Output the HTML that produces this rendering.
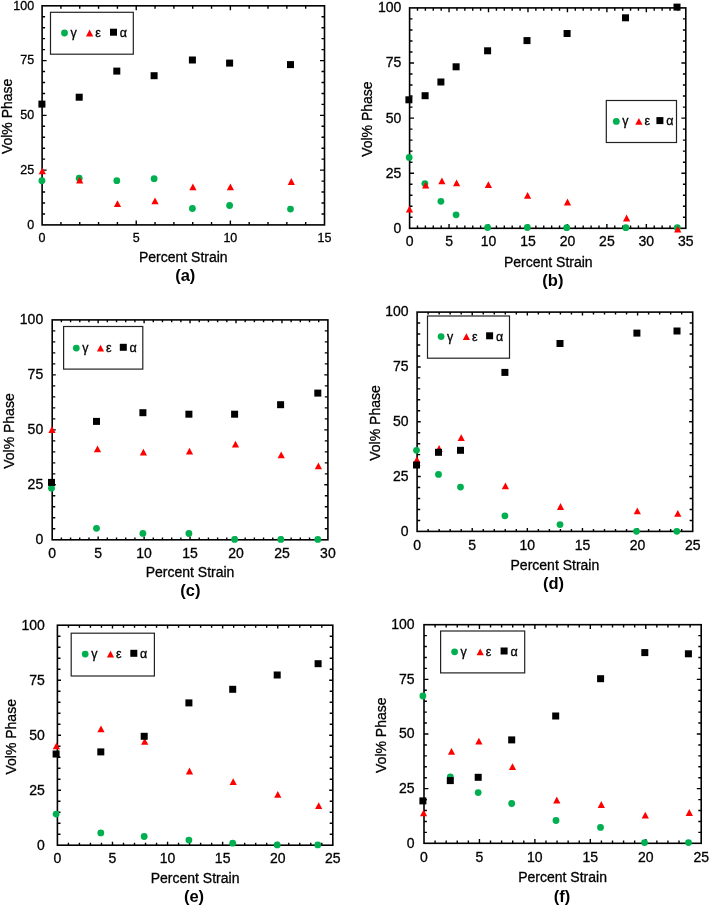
<!DOCTYPE html>
<html><head><meta charset="utf-8"><title>Vol% Phase vs Percent Strain</title>
<style>html,body{margin:0;padding:0;background:#fff;width:709px;height:905px;overflow:hidden}svg{display:block;filter:blur(0.35px)}text{font-family:"Liberation Sans", Arial, sans-serif;fill:#000;stroke:#000;stroke-width:0.3px}text.lb{stroke:none}</style>
</head><body>
<svg width="709" height="905" viewBox="0 0 709 905">
<rect width="709" height="905" fill="#fff"/>
<rect x="42.1" y="5.8" width="282.4" height="219.1" fill="none" stroke="#000" stroke-width="1.6"/>
<path d="M60.93 224.9v-3.0M60.93 5.8v3.0M79.75 224.9v-3.0M79.75 5.8v3.0M98.58 224.9v-3.0M98.58 5.8v3.0M117.41 224.9v-3.0M117.41 5.8v3.0M136.23 224.9v-4.5M136.23 5.8v4.5M155.06 224.9v-3.0M155.06 5.8v3.0M173.89 224.9v-3.0M173.89 5.8v3.0M192.71 224.9v-3.0M192.71 5.8v3.0M211.54 224.9v-3.0M211.54 5.8v3.0M230.37 224.9v-4.5M230.37 5.8v4.5M249.19 224.9v-3.0M249.19 5.8v3.0M268.02 224.9v-3.0M268.02 5.8v3.0M286.85 224.9v-3.0M286.85 5.8v3.0M305.67 224.9v-3.0M305.67 5.8v3.0M42.1 213.94h3.0M324.5 213.94h-3.0M42.1 202.99h3.0M324.5 202.99h-3.0M42.1 192.04h3.0M324.5 192.04h-3.0M42.1 181.08h3.0M324.5 181.08h-3.0M42.1 170.12h4.5M324.5 170.12h-4.5M42.1 159.17h3.0M324.5 159.17h-3.0M42.1 148.22h3.0M324.5 148.22h-3.0M42.1 137.26h3.0M324.5 137.26h-3.0M42.1 126.31h3.0M324.5 126.31h-3.0M42.1 115.35h4.5M324.5 115.35h-4.5M42.1 104.4h3.0M324.5 104.4h-3.0M42.1 93.44h3.0M324.5 93.44h-3.0M42.1 82.49h3.0M324.5 82.49h-3.0M42.1 71.53h3.0M324.5 71.53h-3.0M42.1 60.58h4.5M324.5 60.58h-4.5M42.1 49.62h3.0M324.5 49.62h-3.0M42.1 38.67h3.0M324.5 38.67h-3.0M42.1 27.71h3.0M324.5 27.71h-3.0M42.1 16.76h3.0M324.5 16.76h-3.0" stroke="#000" stroke-width="1.4" fill="none"/>
<circle cx="41.9" cy="180.7" r="3.4" fill="#00B050"/>
<circle cx="79.2" cy="178.2" r="3.4" fill="#00B050"/>
<circle cx="116.8" cy="180.7" r="3.4" fill="#00B050"/>
<circle cx="154.1" cy="178.7" r="3.4" fill="#00B050"/>
<circle cx="192.4" cy="208.5" r="3.4" fill="#00B050"/>
<circle cx="229.6" cy="205.5" r="3.4" fill="#00B050"/>
<circle cx="290.5" cy="209.1" r="3.4" fill="#00B050"/>
<path d="M42.3 167.4L45.9 174.2L38.7 174.2Z" fill="#FF0000"/>
<path d="M79.7 176.6L83.3 183.4L76.1 183.4Z" fill="#FF0000"/>
<path d="M117.5 200.2L121.1 207L113.9 207Z" fill="#FF0000"/>
<path d="M155 197.4L158.6 204.2L151.4 204.2Z" fill="#FF0000"/>
<path d="M192.9 183.5L196.5 190.3L189.3 190.3Z" fill="#FF0000"/>
<path d="M230.4 183.5L234 190.3L226.8 190.3Z" fill="#FF0000"/>
<path d="M291.3 178.1L294.9 184.9L287.7 184.9Z" fill="#FF0000"/>
<rect x="38.4" y="100.6" width="7.0" height="7.0" fill="#000000"/>
<rect x="75.7" y="93.7" width="7.0" height="7.0" fill="#000000"/>
<rect x="113.3" y="67.6" width="7.0" height="7.0" fill="#000000"/>
<rect x="150.6" y="72.2" width="7.0" height="7.0" fill="#000000"/>
<rect x="188.9" y="56.5" width="7.0" height="7.0" fill="#000000"/>
<rect x="226.1" y="59.6" width="7.0" height="7.0" fill="#000000"/>
<rect x="287" y="61.1" width="7.0" height="7.0" fill="#000000"/>
<text x="34.1" y="228.7" text-anchor="end" font-size="12.5">0</text>
<text x="34.1" y="173.93" text-anchor="end" font-size="12.5">25</text>
<text x="34.1" y="119.15" text-anchor="end" font-size="12.5">50</text>
<text x="34.1" y="64.38" text-anchor="end" font-size="12.5">75</text>
<text x="34.1" y="9.6" text-anchor="end" font-size="12.5">100</text>
<text x="42.1" y="242.1" text-anchor="middle" font-size="12.5">0</text>
<text x="136.23" y="242.1" text-anchor="middle" font-size="12.5">5</text>
<text x="230.37" y="242.1" text-anchor="middle" font-size="12.5">10</text>
<text x="324.5" y="242.1" text-anchor="middle" font-size="12.5">15</text>
<text x="183.3" y="261.5" text-anchor="middle" font-size="14">Percent Strain</text>
<text transform="translate(11.8 116.35) rotate(-90)" text-anchor="middle" font-size="14">Vol% Phase</text>
<text x="185.3" y="281.3" text-anchor="middle" font-size="16.5" font-weight="bold" class="lb">(a)</text>
<rect x="50.5" y="12.3" width="82.8" height="41.9" fill="#fff" stroke="#222" stroke-width="1.2"/>
<circle cx="64.5" cy="33" r="3.4" fill="#00B050"/>
<path d="M89.6 29.6L93.2 36.4L86 36.4Z" fill="#FF0000"/>
<rect x="110" y="28.7" width="7.0" height="7.0" fill="#000"/>
<text x="70.5" y="36.9" font-size="12.5">γ</text>
<text x="95.2" y="36.9" font-size="12.5">ε</text>
<text x="119.8" y="36.9" font-size="12.5">α</text>
<rect x="409.6" y="7.9" width="276.2" height="220.4" fill="none" stroke="#000" stroke-width="1.6"/>
<path d="M417.49 228.3v-2.9M417.49 7.9v2.9M425.38 228.3v-2.9M425.38 7.9v2.9M433.27 228.3v-2.9M433.27 7.9v2.9M441.17 228.3v-2.9M441.17 7.9v2.9M449.06 228.3v-4.4M449.06 7.9v4.4M456.95 228.3v-2.9M456.95 7.9v2.9M464.84 228.3v-2.9M464.84 7.9v2.9M472.73 228.3v-2.9M472.73 7.9v2.9M480.62 228.3v-2.9M480.62 7.9v2.9M488.51 228.3v-4.4M488.51 7.9v4.4M496.41 228.3v-2.9M496.41 7.9v2.9M504.3 228.3v-2.9M504.3 7.9v2.9M512.19 228.3v-2.9M512.19 7.9v2.9M520.08 228.3v-2.9M520.08 7.9v2.9M527.97 228.3v-4.4M527.97 7.9v4.4M535.86 228.3v-2.9M535.86 7.9v2.9M543.75 228.3v-2.9M543.75 7.9v2.9M551.65 228.3v-2.9M551.65 7.9v2.9M559.54 228.3v-2.9M559.54 7.9v2.9M567.43 228.3v-4.4M567.43 7.9v4.4M575.32 228.3v-2.9M575.32 7.9v2.9M583.21 228.3v-2.9M583.21 7.9v2.9M591.1 228.3v-2.9M591.1 7.9v2.9M598.99 228.3v-2.9M598.99 7.9v2.9M606.89 228.3v-4.4M606.89 7.9v4.4M614.78 228.3v-2.9M614.78 7.9v2.9M622.67 228.3v-2.9M622.67 7.9v2.9M630.56 228.3v-2.9M630.56 7.9v2.9M638.45 228.3v-2.9M638.45 7.9v2.9M646.34 228.3v-4.4M646.34 7.9v4.4M654.23 228.3v-2.9M654.23 7.9v2.9M662.13 228.3v-2.9M662.13 7.9v2.9M670.02 228.3v-2.9M670.02 7.9v2.9M677.91 228.3v-2.9M677.91 7.9v2.9M409.6 217.28h2.9M685.8 217.28h-2.9M409.6 206.26h2.9M685.8 206.26h-2.9M409.6 195.24h2.9M685.8 195.24h-2.9M409.6 184.22h2.9M685.8 184.22h-2.9M409.6 173.2h4.4M685.8 173.2h-4.4M409.6 162.18h2.9M685.8 162.18h-2.9M409.6 151.16h2.9M685.8 151.16h-2.9M409.6 140.14h2.9M685.8 140.14h-2.9M409.6 129.12h2.9M685.8 129.12h-2.9M409.6 118.1h4.4M685.8 118.1h-4.4M409.6 107.08h2.9M685.8 107.08h-2.9M409.6 96.06h2.9M685.8 96.06h-2.9M409.6 85.04h2.9M685.8 85.04h-2.9M409.6 74.02h2.9M685.8 74.02h-2.9M409.6 63h4.4M685.8 63h-4.4M409.6 51.98h2.9M685.8 51.98h-2.9M409.6 40.96h2.9M685.8 40.96h-2.9M409.6 29.94h2.9M685.8 29.94h-2.9M409.6 18.92h2.9M685.8 18.92h-2.9" stroke="#000" stroke-width="1.4" fill="none"/>
<circle cx="409.2" cy="157.4" r="3.4" fill="#00B050"/>
<circle cx="424.9" cy="183.6" r="3.4" fill="#00B050"/>
<circle cx="440.9" cy="201.3" r="3.4" fill="#00B050"/>
<circle cx="456.1" cy="214.8" r="3.4" fill="#00B050"/>
<circle cx="487.6" cy="227.5" r="3.4" fill="#00B050"/>
<circle cx="527.3" cy="227.5" r="3.4" fill="#00B050"/>
<circle cx="566.7" cy="227.7" r="3.4" fill="#00B050"/>
<circle cx="625.8" cy="227.7" r="3.4" fill="#00B050"/>
<circle cx="677.3" cy="227.7" r="3.4" fill="#00B050"/>
<path d="M409.5 205.8L413.1 212.6L405.9 212.6Z" fill="#FF0000"/>
<path d="M425.7 181.7L429.3 188.5L422.1 188.5Z" fill="#FF0000"/>
<path d="M441.9 177.4L445.5 184.2L438.3 184.2Z" fill="#FF0000"/>
<path d="M456.6 179.4L460.2 186.2L453 186.2Z" fill="#FF0000"/>
<path d="M488.4 181.2L492 188L484.8 188Z" fill="#FF0000"/>
<path d="M527.6 192L531.2 198.8L524 198.8Z" fill="#FF0000"/>
<path d="M567.5 198.6L571.1 205.4L563.9 205.4Z" fill="#FF0000"/>
<path d="M626.6 214.6L630.2 221.4L623 221.4Z" fill="#FF0000"/>
<path d="M677.8 225.8L681.4 232.6L674.2 232.6Z" fill="#FF0000"/>
<rect x="405.4" y="96.3" width="7.0" height="7.0" fill="#000000"/>
<rect x="421.6" y="92.2" width="7.0" height="7.0" fill="#000000"/>
<rect x="437.4" y="78.5" width="7.0" height="7.0" fill="#000000"/>
<rect x="452.6" y="63.3" width="7.0" height="7.0" fill="#000000"/>
<rect x="484.1" y="47.3" width="7.0" height="7.0" fill="#000000"/>
<rect x="523.5" y="37.1" width="7.0" height="7.0" fill="#000000"/>
<rect x="563.6" y="30" width="7.0" height="7.0" fill="#000000"/>
<rect x="622" y="14.3" width="7.0" height="7.0" fill="#000000"/>
<rect x="673.5" y="3.6" width="7.0" height="7.0" fill="#000000"/>
<text x="401.3" y="232.7" text-anchor="end" font-size="14">0</text>
<text x="401.3" y="177.6" text-anchor="end" font-size="14">25</text>
<text x="401.3" y="122.5" text-anchor="end" font-size="14">50</text>
<text x="401.3" y="67.4" text-anchor="end" font-size="14">75</text>
<text x="401.3" y="12.3" text-anchor="end" font-size="14">100</text>
<text x="409.6" y="246.3" text-anchor="middle" font-size="14">0</text>
<text x="449.06" y="246.3" text-anchor="middle" font-size="14">5</text>
<text x="488.51" y="246.3" text-anchor="middle" font-size="14">10</text>
<text x="527.97" y="246.3" text-anchor="middle" font-size="14">15</text>
<text x="567.43" y="246.3" text-anchor="middle" font-size="14">20</text>
<text x="606.89" y="246.3" text-anchor="middle" font-size="14">25</text>
<text x="646.34" y="246.3" text-anchor="middle" font-size="14">30</text>
<text x="685.8" y="246.3" text-anchor="middle" font-size="14">35</text>
<text x="548.3" y="266.8" text-anchor="middle" font-size="14">Percent Strain</text>
<text transform="translate(372.1 119.1) rotate(-90)" text-anchor="middle" font-size="14">Vol% Phase</text>
<text x="552.9" y="285.5" text-anchor="middle" font-size="16.5" font-weight="bold" class="lb">(b)</text>
<rect x="606.3" y="100.5" width="70.2" height="42" fill="#fff" stroke="#222" stroke-width="1.2"/>
<circle cx="616.3" cy="121.4" r="3.4" fill="#00B050"/>
<path d="M638.9 118L642.5 124.8L635.3 124.8Z" fill="#FF0000"/>
<rect x="656.4" y="117.1" width="7.0" height="7.0" fill="#000"/>
<text x="622.3" y="125.3" font-size="12.5">γ</text>
<text x="644.5" y="125.3" font-size="12.5">ε</text>
<text x="666.2" y="125.3" font-size="12.5">α</text>
<rect x="52.2" y="319.9" width="275.7" height="219.9" fill="none" stroke="#000" stroke-width="1.6"/>
<path d="M61.39 539.8v-2.4M61.39 319.9v2.4M70.58 539.8v-2.4M70.58 319.9v2.4M79.77 539.8v-2.4M79.77 319.9v2.4M88.96 539.8v-2.4M88.96 319.9v2.4M98.15 539.8v-3.3M98.15 319.9v3.3M107.34 539.8v-2.4M107.34 319.9v2.4M116.53 539.8v-2.4M116.53 319.9v2.4M125.72 539.8v-2.4M125.72 319.9v2.4M134.91 539.8v-2.4M134.91 319.9v2.4M144.1 539.8v-3.3M144.1 319.9v3.3M153.29 539.8v-2.4M153.29 319.9v2.4M162.48 539.8v-2.4M162.48 319.9v2.4M171.67 539.8v-2.4M171.67 319.9v2.4M180.86 539.8v-2.4M180.86 319.9v2.4M190.05 539.8v-3.3M190.05 319.9v3.3M199.24 539.8v-2.4M199.24 319.9v2.4M208.43 539.8v-2.4M208.43 319.9v2.4M217.62 539.8v-2.4M217.62 319.9v2.4M226.81 539.8v-2.4M226.81 319.9v2.4M236 539.8v-3.3M236 319.9v3.3M245.19 539.8v-2.4M245.19 319.9v2.4M254.38 539.8v-2.4M254.38 319.9v2.4M263.57 539.8v-2.4M263.57 319.9v2.4M272.76 539.8v-2.4M272.76 319.9v2.4M281.95 539.8v-3.3M281.95 319.9v3.3M291.14 539.8v-2.4M291.14 319.9v2.4M300.33 539.8v-2.4M300.33 319.9v2.4M309.52 539.8v-2.4M309.52 319.9v2.4M318.71 539.8v-2.4M318.71 319.9v2.4M52.2 528.8h3.1M327.9 528.8h-3.1M52.2 517.81h3.1M327.9 517.81h-3.1M52.2 506.81h3.1M327.9 506.81h-3.1M52.2 495.82h3.1M327.9 495.82h-3.1M52.2 484.82h3.6M327.9 484.82h-3.6M52.2 473.83h3.1M327.9 473.83h-3.1M52.2 462.83h3.1M327.9 462.83h-3.1M52.2 451.84h3.1M327.9 451.84h-3.1M52.2 440.84h3.1M327.9 440.84h-3.1M52.2 429.85h3.6M327.9 429.85h-3.6M52.2 418.85h3.1M327.9 418.85h-3.1M52.2 407.86h3.1M327.9 407.86h-3.1M52.2 396.86h3.1M327.9 396.86h-3.1M52.2 385.87h3.1M327.9 385.87h-3.1M52.2 374.88h3.6M327.9 374.88h-3.6M52.2 363.88h3.1M327.9 363.88h-3.1M52.2 352.88h3.1M327.9 352.88h-3.1M52.2 341.89h3.1M327.9 341.89h-3.1M52.2 330.89h3.1M327.9 330.89h-3.1" stroke="#000" stroke-width="1.4" fill="none"/>
<circle cx="51.5" cy="488.2" r="3.4" fill="#00B050"/>
<circle cx="96.5" cy="528.3" r="3.4" fill="#00B050"/>
<circle cx="142.9" cy="533.4" r="3.4" fill="#00B050"/>
<circle cx="188.9" cy="533.5" r="3.4" fill="#00B050"/>
<circle cx="234.6" cy="539.4" r="3.4" fill="#00B050"/>
<circle cx="280.8" cy="539.4" r="3.4" fill="#00B050"/>
<circle cx="317.8" cy="539.4" r="3.4" fill="#00B050"/>
<path d="M52 426.1L55.6 432.9L48.4 432.9Z" fill="#FF0000"/>
<path d="M97.5 445.5L101.1 452.3L93.9 452.3Z" fill="#FF0000"/>
<path d="M143.4 448.8L147 455.6L139.8 455.6Z" fill="#FF0000"/>
<path d="M189.5 447.8L193.1 454.6L185.9 454.6Z" fill="#FF0000"/>
<path d="M235.5 440.7L239.1 447.5L231.9 447.5Z" fill="#FF0000"/>
<path d="M281.2 451.4L284.8 458.2L277.6 458.2Z" fill="#FF0000"/>
<path d="M318.4 462.4L322 469.2L314.8 469.2Z" fill="#FF0000"/>
<rect x="48" y="478.9" width="7.0" height="7.0" fill="#000000"/>
<rect x="93" y="417.9" width="7.0" height="7.0" fill="#000000"/>
<rect x="139.4" y="409.2" width="7.0" height="7.0" fill="#000000"/>
<rect x="185.4" y="410.7" width="7.0" height="7.0" fill="#000000"/>
<rect x="231.1" y="410.7" width="7.0" height="7.0" fill="#000000"/>
<rect x="277.1" y="401.2" width="7.0" height="7.0" fill="#000000"/>
<rect x="314.3" y="389.6" width="7.0" height="7.0" fill="#000000"/>
<text x="43.2" y="544.2" text-anchor="end" font-size="14">0</text>
<text x="43.2" y="489.22" text-anchor="end" font-size="14">25</text>
<text x="43.2" y="434.25" text-anchor="end" font-size="14">50</text>
<text x="43.2" y="379.27" text-anchor="end" font-size="14">75</text>
<text x="43.2" y="324.3" text-anchor="end" font-size="14">100</text>
<text x="52.2" y="558.2" text-anchor="middle" font-size="14">0</text>
<text x="98.15" y="558.2" text-anchor="middle" font-size="14">5</text>
<text x="144.1" y="558.2" text-anchor="middle" font-size="14">10</text>
<text x="190.05" y="558.2" text-anchor="middle" font-size="14">15</text>
<text x="236" y="558.2" text-anchor="middle" font-size="14">20</text>
<text x="281.95" y="558.2" text-anchor="middle" font-size="14">25</text>
<text x="327.9" y="558.2" text-anchor="middle" font-size="14">30</text>
<text x="190.05" y="577.1" text-anchor="middle" font-size="14">Percent Strain</text>
<text transform="translate(13.5 431.05) rotate(-90)" text-anchor="middle" font-size="14">Vol% Phase</text>
<text x="190.45" y="595.5" text-anchor="middle" font-size="16.5" font-weight="bold" class="lb">(c)</text>
<rect x="63.6" y="326.5" width="79.2" height="42.6" fill="#fff" stroke="#222" stroke-width="1.2"/>
<circle cx="76.3" cy="348.1" r="3.4" fill="#00B050"/>
<path d="M100.5 344.7L104.1 351.5L96.9 351.5Z" fill="#FF0000"/>
<rect x="119.8" y="343.8" width="7.0" height="7.0" fill="#000"/>
<text x="82.3" y="352" font-size="12.5">γ</text>
<text x="106.1" y="352" font-size="12.5">ε</text>
<text x="129.6" y="352" font-size="12.5">α</text>
<rect x="417.1" y="312.1" width="275.6" height="219.3" fill="none" stroke="#000" stroke-width="1.6"/>
<path d="M428.12 531.4v-2.4M428.12 312.1v2.4M439.15 531.4v-2.4M439.15 312.1v2.4M450.17 531.4v-2.4M450.17 312.1v2.4M461.2 531.4v-2.4M461.2 312.1v2.4M472.22 531.4v-3.3M472.22 312.1v3.3M483.24 531.4v-2.4M483.24 312.1v2.4M494.27 531.4v-2.4M494.27 312.1v2.4M505.29 531.4v-2.4M505.29 312.1v2.4M516.32 531.4v-2.4M516.32 312.1v2.4M527.34 531.4v-3.3M527.34 312.1v3.3M538.36 531.4v-2.4M538.36 312.1v2.4M549.39 531.4v-2.4M549.39 312.1v2.4M560.41 531.4v-2.4M560.41 312.1v2.4M571.44 531.4v-2.4M571.44 312.1v2.4M582.46 531.4v-3.3M582.46 312.1v3.3M593.48 531.4v-2.4M593.48 312.1v2.4M604.51 531.4v-2.4M604.51 312.1v2.4M615.53 531.4v-2.4M615.53 312.1v2.4M626.56 531.4v-2.4M626.56 312.1v2.4M637.58 531.4v-3.3M637.58 312.1v3.3M648.6 531.4v-2.4M648.6 312.1v2.4M659.63 531.4v-2.4M659.63 312.1v2.4M670.65 531.4v-2.4M670.65 312.1v2.4M681.68 531.4v-2.4M681.68 312.1v2.4M417.1 520.43h3.1M692.7 520.43h-3.1M417.1 509.47h3.1M692.7 509.47h-3.1M417.1 498.5h3.1M692.7 498.5h-3.1M417.1 487.54h3.1M692.7 487.54h-3.1M417.1 476.57h3.6M692.7 476.57h-3.6M417.1 465.61h3.1M692.7 465.61h-3.1M417.1 454.64h3.1M692.7 454.64h-3.1M417.1 443.68h3.1M692.7 443.68h-3.1M417.1 432.71h3.1M692.7 432.71h-3.1M417.1 421.75h3.6M692.7 421.75h-3.6M417.1 410.78h3.1M692.7 410.78h-3.1M417.1 399.82h3.1M692.7 399.82h-3.1M417.1 388.86h3.1M692.7 388.86h-3.1M417.1 377.89h3.1M692.7 377.89h-3.1M417.1 366.93h3.6M692.7 366.93h-3.6M417.1 355.96h3.1M692.7 355.96h-3.1M417.1 345h3.1M692.7 345h-3.1M417.1 334.03h3.1M692.7 334.03h-3.1M417.1 323.07h3.1M692.7 323.07h-3.1" stroke="#000" stroke-width="1.4" fill="none"/>
<circle cx="416.5" cy="450.3" r="3.4" fill="#00B050"/>
<circle cx="438.5" cy="474.4" r="3.4" fill="#00B050"/>
<circle cx="460.5" cy="487.1" r="3.4" fill="#00B050"/>
<circle cx="504.9" cy="515.8" r="3.4" fill="#00B050"/>
<circle cx="560" cy="524.6" r="3.4" fill="#00B050"/>
<circle cx="636.5" cy="531.3" r="3.4" fill="#00B050"/>
<circle cx="676.8" cy="531.3" r="3.4" fill="#00B050"/>
<path d="M416.9 456.3L420.5 463.1L413.3 463.1Z" fill="#FF0000"/>
<path d="M439.1 445.1L442.7 451.9L435.5 451.9Z" fill="#FF0000"/>
<path d="M461.2 434.2L464.8 441L457.6 441Z" fill="#FF0000"/>
<path d="M505.4 482.5L509 489.3L501.8 489.3Z" fill="#FF0000"/>
<path d="M560.5 503.1L564.1 509.9L556.9 509.9Z" fill="#FF0000"/>
<path d="M637.3 507.4L640.9 514.2L633.7 514.2Z" fill="#FF0000"/>
<path d="M677.8 510L681.4 516.8L674.2 516.8Z" fill="#FF0000"/>
<rect x="413" y="461.5" width="7.0" height="7.0" fill="#000000"/>
<rect x="435" y="448.8" width="7.0" height="7.0" fill="#000000"/>
<rect x="457" y="446.8" width="7.0" height="7.0" fill="#000000"/>
<rect x="501.4" y="368.9" width="7.0" height="7.0" fill="#000000"/>
<rect x="556.5" y="340" width="7.0" height="7.0" fill="#000000"/>
<rect x="633.4" y="329.6" width="7.0" height="7.0" fill="#000000"/>
<rect x="673.5" y="327.5" width="7.0" height="7.0" fill="#000000"/>
<text x="408.6" y="535.7" text-anchor="end" font-size="14">0</text>
<text x="408.6" y="480.88" text-anchor="end" font-size="14">25</text>
<text x="408.6" y="426.05" text-anchor="end" font-size="14">50</text>
<text x="408.6" y="371.23" text-anchor="end" font-size="14">75</text>
<text x="408.6" y="316.4" text-anchor="end" font-size="14">100</text>
<text x="417.1" y="549.9" text-anchor="middle" font-size="14">0</text>
<text x="472.22" y="549.9" text-anchor="middle" font-size="14">5</text>
<text x="527.34" y="549.9" text-anchor="middle" font-size="14">10</text>
<text x="582.46" y="549.9" text-anchor="middle" font-size="14">15</text>
<text x="637.58" y="549.9" text-anchor="middle" font-size="14">20</text>
<text x="692.7" y="549.9" text-anchor="middle" font-size="14">25</text>
<text x="554.9" y="569.9" text-anchor="middle" font-size="14">Percent Strain</text>
<text transform="translate(379.7 423) rotate(-90)" text-anchor="middle" font-size="14">Vol% Phase</text>
<text x="553.5" y="588.6" text-anchor="middle" font-size="16.5" font-weight="bold" class="lb">(d)</text>
<rect x="427.5" y="316" width="82" height="42.2" fill="#fff" stroke="#222" stroke-width="1.2"/>
<circle cx="441.1" cy="336.6" r="3.4" fill="#00B050"/>
<path d="M466.4 333.2L470 340L462.8 340Z" fill="#FF0000"/>
<rect x="486.1" y="332.3" width="7.0" height="7.0" fill="#000"/>
<text x="447.1" y="340.5" font-size="12.5">γ</text>
<text x="472" y="340.5" font-size="12.5">ε</text>
<text x="495.9" y="340.5" font-size="12.5">α</text>
<rect x="57.4" y="625.2" width="275.4" height="220" fill="none" stroke="#000" stroke-width="1.6"/>
<path d="M68.42 845.2v-2.5M68.42 625.2v2.5M79.43 845.2v-2.5M79.43 625.2v2.5M90.45 845.2v-2.5M90.45 625.2v2.5M101.46 845.2v-2.5M101.46 625.2v2.5M112.48 845.2v-3.4M112.48 625.2v3.4M123.5 845.2v-2.5M123.5 625.2v2.5M134.51 845.2v-2.5M134.51 625.2v2.5M145.53 845.2v-2.5M145.53 625.2v2.5M156.54 845.2v-2.5M156.54 625.2v2.5M167.56 845.2v-3.4M167.56 625.2v3.4M178.58 845.2v-2.5M178.58 625.2v2.5M189.59 845.2v-2.5M189.59 625.2v2.5M200.61 845.2v-2.5M200.61 625.2v2.5M211.62 845.2v-2.5M211.62 625.2v2.5M222.64 845.2v-3.4M222.64 625.2v3.4M233.66 845.2v-2.5M233.66 625.2v2.5M244.67 845.2v-2.5M244.67 625.2v2.5M255.69 845.2v-2.5M255.69 625.2v2.5M266.7 845.2v-2.5M266.7 625.2v2.5M277.72 845.2v-3.4M277.72 625.2v3.4M288.74 845.2v-2.5M288.74 625.2v2.5M299.75 845.2v-2.5M299.75 625.2v2.5M310.77 845.2v-2.5M310.77 625.2v2.5M321.78 845.2v-2.5M321.78 625.2v2.5M57.4 834.2h3.1M332.8 834.2h-3.1M57.4 823.2h3.1M332.8 823.2h-3.1M57.4 812.2h3.1M332.8 812.2h-3.1M57.4 801.2h3.1M332.8 801.2h-3.1M57.4 790.2h3.6M332.8 790.2h-3.6M57.4 779.2h3.1M332.8 779.2h-3.1M57.4 768.2h3.1M332.8 768.2h-3.1M57.4 757.2h3.1M332.8 757.2h-3.1M57.4 746.2h3.1M332.8 746.2h-3.1M57.4 735.2h3.6M332.8 735.2h-3.6M57.4 724.2h3.1M332.8 724.2h-3.1M57.4 713.2h3.1M332.8 713.2h-3.1M57.4 702.2h3.1M332.8 702.2h-3.1M57.4 691.2h3.1M332.8 691.2h-3.1M57.4 680.2h3.6M332.8 680.2h-3.6M57.4 669.2h3.1M332.8 669.2h-3.1M57.4 658.2h3.1M332.8 658.2h-3.1M57.4 647.2h3.1M332.8 647.2h-3.1M57.4 636.2h3.1M332.8 636.2h-3.1" stroke="#000" stroke-width="1.4" fill="none"/>
<circle cx="56.1" cy="814.1" r="3.4" fill="#00B050"/>
<circle cx="100.8" cy="832.9" r="3.4" fill="#00B050"/>
<circle cx="144.2" cy="836.5" r="3.4" fill="#00B050"/>
<circle cx="188.9" cy="840.1" r="3.4" fill="#00B050"/>
<circle cx="232.7" cy="843.2" r="3.4" fill="#00B050"/>
<circle cx="277.2" cy="844.9" r="3.4" fill="#00B050"/>
<circle cx="317.8" cy="844.9" r="3.4" fill="#00B050"/>
<path d="M56.4 742.5L60 749.3L52.8 749.3Z" fill="#FF0000"/>
<path d="M101 725.5L104.6 732.3L97.4 732.3Z" fill="#FF0000"/>
<path d="M144.7 737.9L148.3 744.7L141.1 744.7Z" fill="#FF0000"/>
<path d="M189.5 767.6L193.1 774.4L185.9 774.4Z" fill="#FF0000"/>
<path d="M233.2 778.3L236.8 785.1L229.6 785.1Z" fill="#FF0000"/>
<path d="M277.8 791L281.4 797.8L274.2 797.8Z" fill="#FF0000"/>
<path d="M318.7 802.3L322.3 809.1L315.1 809.1Z" fill="#FF0000"/>
<rect x="52.6" y="750.5" width="7.0" height="7.0" fill="#000000"/>
<rect x="97.3" y="748.4" width="7.0" height="7.0" fill="#000000"/>
<rect x="140.7" y="732.8" width="7.0" height="7.0" fill="#000000"/>
<rect x="185.4" y="699.4" width="7.0" height="7.0" fill="#000000"/>
<rect x="229.2" y="685.8" width="7.0" height="7.0" fill="#000000"/>
<rect x="273.7" y="671.5" width="7.0" height="7.0" fill="#000000"/>
<rect x="314.6" y="660.2" width="7.0" height="7.0" fill="#000000"/>
<text x="44.8" y="849.5" text-anchor="end" font-size="14">0</text>
<text x="44.8" y="794.5" text-anchor="end" font-size="14">25</text>
<text x="44.8" y="739.5" text-anchor="end" font-size="14">50</text>
<text x="44.8" y="684.5" text-anchor="end" font-size="14">75</text>
<text x="44.8" y="629.5" text-anchor="end" font-size="14">100</text>
<text x="57.4" y="863.4" text-anchor="middle" font-size="14">0</text>
<text x="112.48" y="863.4" text-anchor="middle" font-size="14">5</text>
<text x="167.56" y="863.4" text-anchor="middle" font-size="14">10</text>
<text x="222.64" y="863.4" text-anchor="middle" font-size="14">15</text>
<text x="277.72" y="863.4" text-anchor="middle" font-size="14">20</text>
<text x="332.8" y="863.4" text-anchor="middle" font-size="14">25</text>
<text x="195.1" y="883.3" text-anchor="middle" font-size="14">Percent Strain</text>
<text transform="translate(15.6 736.8) rotate(-90)" text-anchor="middle" font-size="14">Vol% Phase</text>
<text x="194" y="902" text-anchor="middle" font-size="16.5" font-weight="bold" class="lb">(e)</text>
<rect x="71.2" y="633.2" width="83.2" height="42.8" fill="#fff" stroke="#222" stroke-width="1.2"/>
<circle cx="85.2" cy="654.1" r="3.4" fill="#00B050"/>
<path d="M110.5 650.7L114.1 657.5L106.9 657.5Z" fill="#FF0000"/>
<rect x="130.3" y="649.8" width="7.0" height="7.0" fill="#000"/>
<text x="91.2" y="658" font-size="12.5">γ</text>
<text x="116.1" y="658" font-size="12.5">ε</text>
<text x="140.1" y="658" font-size="12.5">α</text>
<rect x="424" y="624.7" width="277.2" height="218.6" fill="none" stroke="#000" stroke-width="1.6"/>
<path d="M435.09 843.3v-2.9M435.09 624.7v2.9M446.18 843.3v-2.9M446.18 624.7v2.9M457.26 843.3v-2.9M457.26 624.7v2.9M468.35 843.3v-2.9M468.35 624.7v2.9M479.44 843.3v-4.4M479.44 624.7v4.4M490.53 843.3v-2.9M490.53 624.7v2.9M501.62 843.3v-2.9M501.62 624.7v2.9M512.7 843.3v-2.9M512.7 624.7v2.9M523.79 843.3v-2.9M523.79 624.7v2.9M534.88 843.3v-4.4M534.88 624.7v4.4M545.97 843.3v-2.9M545.97 624.7v2.9M557.06 843.3v-2.9M557.06 624.7v2.9M568.14 843.3v-2.9M568.14 624.7v2.9M579.23 843.3v-2.9M579.23 624.7v2.9M590.32 843.3v-4.4M590.32 624.7v4.4M601.41 843.3v-2.9M601.41 624.7v2.9M612.5 843.3v-2.9M612.5 624.7v2.9M623.58 843.3v-2.9M623.58 624.7v2.9M634.67 843.3v-2.9M634.67 624.7v2.9M645.76 843.3v-4.4M645.76 624.7v4.4M656.85 843.3v-2.9M656.85 624.7v2.9M667.94 843.3v-2.9M667.94 624.7v2.9M679.02 843.3v-2.9M679.02 624.7v2.9M690.11 843.3v-2.9M690.11 624.7v2.9M424 832.37h2.9M701.2 832.37h-2.9M424 821.44h2.9M701.2 821.44h-2.9M424 810.51h2.9M701.2 810.51h-2.9M424 799.58h2.9M701.2 799.58h-2.9M424 788.65h4.4M701.2 788.65h-4.4M424 777.72h2.9M701.2 777.72h-2.9M424 766.79h2.9M701.2 766.79h-2.9M424 755.86h2.9M701.2 755.86h-2.9M424 744.93h2.9M701.2 744.93h-2.9M424 734h4.4M701.2 734h-4.4M424 723.07h2.9M701.2 723.07h-2.9M424 712.14h2.9M701.2 712.14h-2.9M424 701.21h2.9M701.2 701.21h-2.9M424 690.28h2.9M701.2 690.28h-2.9M424 679.35h4.4M701.2 679.35h-4.4M424 668.42h2.9M701.2 668.42h-2.9M424 657.49h2.9M701.2 657.49h-2.9M424 646.56h2.9M701.2 646.56h-2.9M424 635.63h2.9M701.2 635.63h-2.9" stroke="#000" stroke-width="1.4" fill="none"/>
<circle cx="422.9" cy="696" r="3.4" fill="#00B050"/>
<circle cx="450.3" cy="776.8" r="3.4" fill="#00B050"/>
<circle cx="478.2" cy="792.6" r="3.4" fill="#00B050"/>
<circle cx="511.7" cy="803.5" r="3.4" fill="#00B050"/>
<circle cx="556" cy="820.5" r="3.4" fill="#00B050"/>
<circle cx="600.5" cy="827.4" r="3.4" fill="#00B050"/>
<circle cx="644.5" cy="842.6" r="3.4" fill="#00B050"/>
<circle cx="688.5" cy="842.6" r="3.4" fill="#00B050"/>
<path d="M423.6 809.5L427.2 816.3L420 816.3Z" fill="#FF0000"/>
<path d="M451.5 748L455.1 754.8L447.9 754.8Z" fill="#FF0000"/>
<path d="M478.9 737.7L482.5 744.5L475.3 744.5Z" fill="#FF0000"/>
<path d="M512.5 763.3L516.1 770.1L508.9 770.1Z" fill="#FF0000"/>
<path d="M556.8 796.6L560.4 803.4L553.2 803.4Z" fill="#FF0000"/>
<path d="M601.3 801.1L604.9 807.9L597.7 807.9Z" fill="#FF0000"/>
<path d="M645.3 811.8L648.9 818.6L641.7 818.6Z" fill="#FF0000"/>
<path d="M689.3 809.1L692.9 815.9L685.7 815.9Z" fill="#FF0000"/>
<rect x="419.4" y="797.4" width="7.0" height="7.0" fill="#000000"/>
<rect x="446.8" y="777.1" width="7.0" height="7.0" fill="#000000"/>
<rect x="474.7" y="773.8" width="7.0" height="7.0" fill="#000000"/>
<rect x="508.2" y="736.4" width="7.0" height="7.0" fill="#000000"/>
<rect x="552.2" y="712.5" width="7.0" height="7.0" fill="#000000"/>
<rect x="597.1" y="675.2" width="7.0" height="7.0" fill="#000000"/>
<rect x="641.3" y="649.1" width="7.0" height="7.0" fill="#000000"/>
<rect x="684.9" y="650.3" width="7.0" height="7.0" fill="#000000"/>
<text x="414.6" y="847.7" text-anchor="end" font-size="14">0</text>
<text x="414.6" y="793.05" text-anchor="end" font-size="14">25</text>
<text x="414.6" y="738.4" text-anchor="end" font-size="14">50</text>
<text x="414.6" y="683.75" text-anchor="end" font-size="14">75</text>
<text x="414.6" y="629.1" text-anchor="end" font-size="14">100</text>
<text x="424" y="862.1" text-anchor="middle" font-size="14">0</text>
<text x="479.44" y="862.1" text-anchor="middle" font-size="14">5</text>
<text x="534.88" y="862.1" text-anchor="middle" font-size="14">10</text>
<text x="590.32" y="862.1" text-anchor="middle" font-size="14">15</text>
<text x="645.76" y="862.1" text-anchor="middle" font-size="14">20</text>
<text x="701.2" y="862.1" text-anchor="middle" font-size="14">25</text>
<text x="562.6" y="881.7" text-anchor="middle" font-size="14">Percent Strain</text>
<text transform="translate(385.6 735.2) rotate(-90)" text-anchor="middle" font-size="14">Vol% Phase</text>
<text x="561.9" y="901.9" text-anchor="middle" font-size="16.5" font-weight="bold" class="lb">(f)</text>
<rect x="440.6" y="631" width="84.1" height="41.9" fill="#fff" stroke="#222" stroke-width="1.2"/>
<circle cx="454.6" cy="651.8" r="3.4" fill="#00B050"/>
<path d="M480.2 648.4L483.8 655.2L476.6 655.2Z" fill="#FF0000"/>
<rect x="500.6" y="647.5" width="7.0" height="7.0" fill="#000"/>
<text x="460.6" y="655.7" font-size="12.5">γ</text>
<text x="485.8" y="655.7" font-size="12.5">ε</text>
<text x="510.4" y="655.7" font-size="12.5">α</text>
</svg>
</body></html>
